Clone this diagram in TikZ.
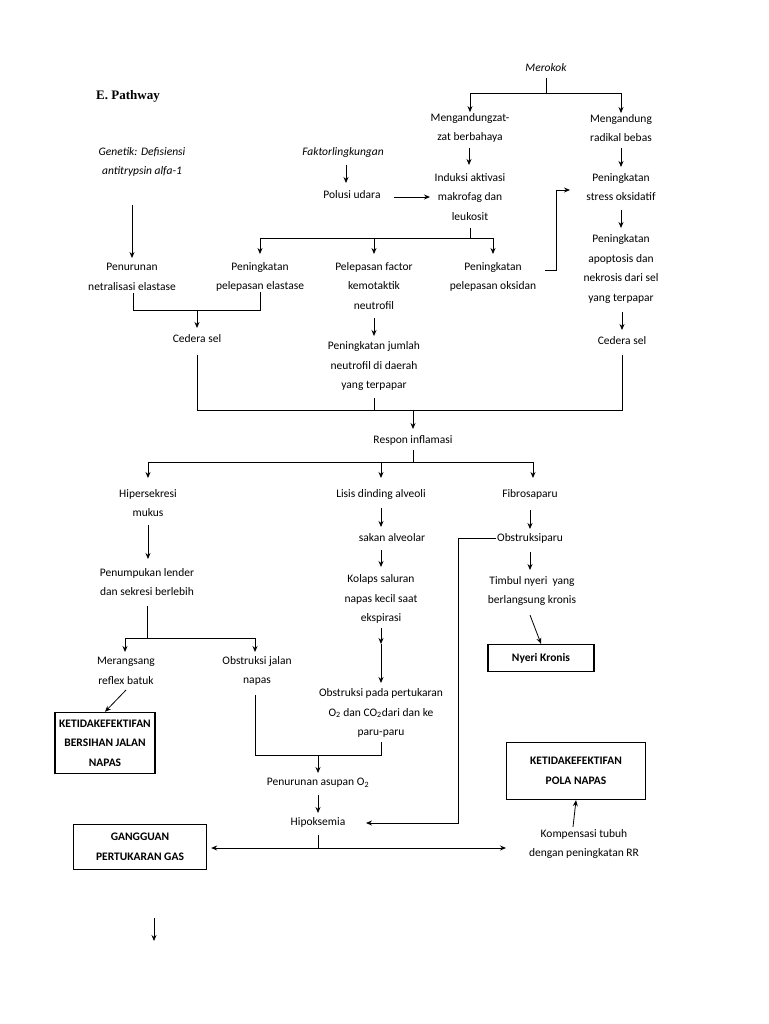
\documentclass[tikz,border=0pt]{standalone}
\usepackage{fontspec}
\setmainfont{Carlito}
\newfontfamily\ser{Liberation Serif}
\usetikzlibrary{arrows.meta}
\begin{document}
\begin{tikzpicture}[x=1pt,y=-1pt,
  t/.style={align=center,font=\fontsize{11.5}{19.5}\selectfont,inner sep=1pt},
  it/.style={t,font=\fontsize{11.5}{19.5}\selectfont\itshape},
  bx/.style={t,draw,line width=1.4pt,inner sep=4pt,font=\fontsize{11.5}{19.5}\selectfont\bfseries},
  ln/.style={line width=0.8pt},
  ar/.style={ln,-{Stealth[length=6pt,width=5pt]}}]
\useasboundingbox (0,0) rectangle (768,1024);
\node[font=\ser\fontsize{13}{15}\selectfont\bfseries] (title) at (128,96) {E. Pathway};
\node[it] (mer) at (546,68) {Merokok};
\node[t] (zat) at (470,128) {Mengandungzat-\\zat berbahaya};
\node[t] (rad) at (621,128) {Mengandung\\radikal bebas};
\node[it] (gen) at (142,162) {Genetik: Defisiensi\\antitrypsin alfa-1};
\node[it] (fak) at (343,152) {Faktorlingkungan};
\node[t] (pol) at (352,195) {Polusi udara};
\node[t] (ind) at (470,197) {Induksi aktivasi\\makrofag dan\\leukosit};
\node[t] (str) at (621,187) {Peningkatan\\stress oksidatif};
\node[t] (apo) at (621,269) {Peningkatan\\apoptosis dan\\nekrosis dari sel\\yang terpapar};
\node[t] (ced2) at (622,341) {Cedera sel};
\node[t] (pen) at (132,277) {Penurunan\\netralisasi elastase};
\node[t] (ela) at (260,277) {Peningkatan\\pelepasan elastase};
\node[t] (kem) at (374,286) {Pelepasan factor\\kemotaktik\\neutrofil};
\node[t] (oks) at (493,277) {Peningkatan\\pelepasan oksidan};
\node[t] (ced1) at (197,339) {Cedera sel};
\node[t] (jum) at (374,366) {Peningkatan jumlah\\neutrofil di daerah\\yang terpapar};
\node[t] (res) at (413,440) {Respon inflamasi};
\node[t] (hip) at (148,503) {Hipersekresi\\mukus};
\node[t] (lis) at (381,494) {Lisis dinding alveoli};
\node[t] (fib) at (530,494) {Fibrosaparu};
\node[t] (lend) at (147,582) {Penumpukan lender\\dan sekresi berlebih};
\node[t] (sak) at (392,538) {sakan alveolar};
\node[t] (obp) at (530,538) {Obstruksiparu};
\node[t] (kol) at (381,599) {Kolaps saluran\\napas kecil saat\\ekspirasi};
\node[t] (tim) at (532,591) {Timbul nyeri\ \ yang\\berlangsung kronis};
\node[bx,minimum width=106pt,minimum height=27pt] (nk) at (541,658) {Nyeri Kronis};
\node[t] (mrg) at (126,671) {Merangsang\\reflex batuk};
\node[t] (obj) at (257,671) {Obstruksi jalan\\napas};
\node[bx,minimum width=98pt,minimum height=61pt] (kbj) at (105,743) {KETIDAKEFEKTIFAN\\BERSIHAN JALAN\\NAPAS};
\node[t] (obs) at (381,713) {Obstruksi pada pertukaran\\O\textsubscript{2} dan CO\textsubscript{2}dari dan ke\\paru-paru};
\node[t] (asu) at (318,783) {Penurunan asupan O\textsubscript{2}};
\node[t] (hpk) at (318,822) {Hipoksemia};
\node[bx,minimum width=133pt,minimum height=45pt] (gpg) at (140,847) {GANGGUAN\\PERTUKARAN GAS};
\node[t] (kom) at (584,844) {Kompensasi tubuh\\dengan peningkatan RR};
\node[bx,minimum width=139pt,minimum height=57pt] (kpn) at (576,771) {KETIDAKEFEKTIFAN\\POLA NAPAS};
\coordinate (bot1) at (154,918); \coordinate (bot2) at (154,941);
% top
\draw[ln] (546,78) -- (546,93);
\draw[ar] (546,93) -| (zat.north);
\draw[ar] (546,93) -| (rad.north);
\draw[ar] (469,148) -- (469,165);
\draw[ar] (621,148) -- (621,167);
\draw[ar] (346,165) -- (346,183);
\draw[ar] (pol.east)++(12,2) -- (430,197);
\draw[ar] (621,210) -- (621,228);
\draw[ar] (622,312) -- (622,330);
\draw[ar] (132,205) -- (132,258);
\draw[ln] (470,228) -- (470,238);
\draw[ar] (470,238) -| (260,254);
\draw[ar] (470,238) -| (493,254);
\draw[ar] (374,238) -- (374,254);
\draw[ar] (545,270) -- (556,270) -- (556,190) -- (570,190);
\draw[ln] (133,293) -- (133,310) -- (260,310) -- (260,292);
\draw[ar] (197,310) -- (197,328);
\draw[ar] (374,318) -- (374,336);
\draw[ln] (197,355) -- (197,410) -- (622,410) -- (622,355);
\draw[ln] (374,398) -- (374,410);
\draw[ar] (413,410) -- (413,429);
% middle
\draw[ln] (413,450) -- (413,462);
\draw[ar] (413,462) -| (148,478);
\draw[ar] (413,462) -| (533,478);
\draw[ar] (381,462) -- (381,478);
\draw[ar] (148,525) -- (148,559);
\draw[ar] (381,508) -- (381,527);
\draw[ar] (530,510) -- (530,529);
\draw[ar] (381,550) -- (381,567);
\draw[ar] (530,552) -- (530,570);
\draw[ar] (381,628) -- (381,644);
\draw[ar] (381,644) -- (381,683);
\draw[ar] (530,615) -- (nk.north);
\draw[ln] (147,606) -- (147,638);
\draw[ar] (147,638) -| (125,652);
\draw[ar] (147,638) -| (255,652);
\draw[ar] (126,690) -- (kbj.north);
\draw[ln] (255,695) -- (255,755) -- (381,755) -- (381,742);
\draw[ar] (318,755) -- (318,773);
\draw[ar] (318,795) -- (318,813);
\draw[ar] (obp.west) -- (458,538) -- (458,823) -- (366,823);
\draw[ln] (318,835) -- (318,848);
\draw[ln,{Stealth[length=6pt,width=5pt]}-{Stealth[length=6pt,width=5pt]}] (gpg.east)++(4,1) -- (506,848);
\draw[ar] (573,827) -- (kpn.south);
\draw[ar] (bot1) -- (bot2);
\end{tikzpicture}
\end{document}
